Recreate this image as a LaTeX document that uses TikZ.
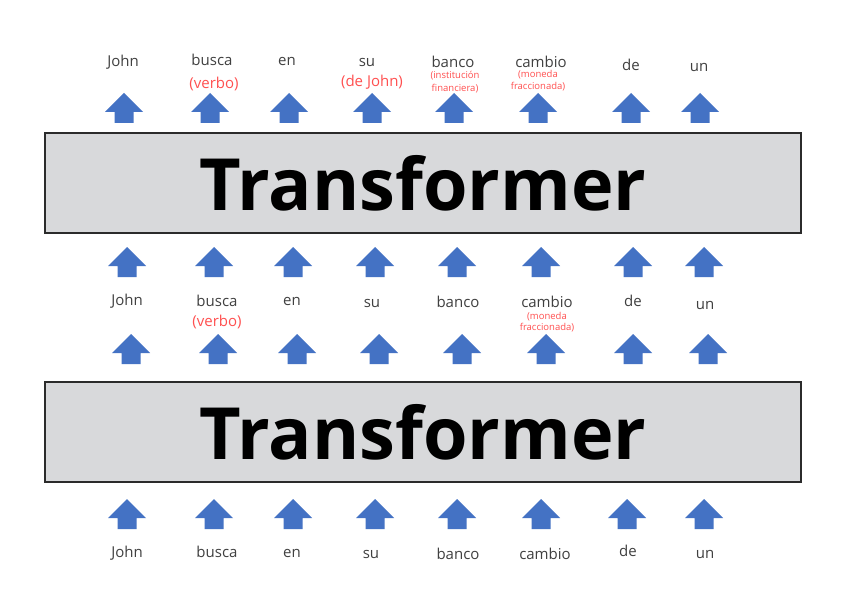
\documentclass[tikz,border=0pt]{standalone}
\usepackage{fontspec}
\setmainfont{Open Sans}
\definecolor{arrowblue}{HTML}{4472C4}
\definecolor{wordgray}{HTML}{404040}
\definecolor{notered}{HTML}{FF5050}
\definecolor{boxgray}{HTML}{D8D9DB}
\definecolor{boxline}{HTML}{2B2B2B}
\begin{document}
\begin{tikzpicture}[x=1pt,y=-1pt,
  word/.style={text=wordgray,font=\fontsize{15}{18}\selectfont,anchor=base,inner sep=0pt},
  note/.style={text=notered,font=\fontsize{15}{18}\selectfont,anchor=base,inner sep=0pt},
  tiny/.style={text=notered,font=\fontsize{9.5}{11}\selectfont,anchor=base,inner sep=0pt},
  tbox/.style={draw=boxline,fill=boxgray,line width=1.5pt,minimum width=756pt,minimum height=100pt,inner sep=0pt,font=\fontsize{72}{80}\selectfont\bfseries},
  upblock/.pic={\fill[arrowblue] (0,-15) -- (19,4) -- (9.5,4) -- (9.5,15) -- (-9.5,15) -- (-9.5,4) -- (-19,4) -- cycle;}
]
\fill[white] (0,0) rectangle (866,612);
\useasboundingbox (0,0) rectangle (866,612);

% Transformer boxes
\node[tbox] (tf2) at (423,183) {Transformer};
\node[tbox] (tf1) at (423,432) {Transformer};

% top output words
\node[word] (o1) at (123,67) {John};
\node[word] (o2) at (212,66) {busca};
\node[note] (o2n) at (214,89) {(verbo)};
\node[word] (o3) at (287,66) {en};
\node[word] (o4) at (367,67) {su};
\node[note] (o4n) at (372,87) {(de John)};
\node[word] (o5) at (453,68) {banco};
\node[tiny] (o5n) at (455,79) {(institución};
\node[tiny] (o5m) at (455,92) {financiera)};
\node[word] (o6) at (541,68) {cambio};
\node[tiny] (o6n) at (538,78) {(moneda};
\node[tiny] (o6m) at (538,90) {fraccionada)};
\node[word] (o7) at (631,71) {de};
\node[word] (o8) at (699,72) {un};

% top arrows
\foreach \x [count=\i] in {124,210,289,372,454,538,631,700}
  \pic (at\i) at (\x,108) {upblock};

% middle arrows (upper)
\foreach \x [count=\i] in {127,214,293,375,457,541,633,704}
  \pic (am\i) at (\x,262) {upblock};

% middle words
\node[word] (m1) at (127,305) {John};
\node[word] (m2) at (217,306) {busca};
\node[note] (m2n) at (217,326) {(verbo)};
\node[word] (m3) at (292,305) {en};
\node[word] (m4) at (372,307) {su};
\node[word] (m5) at (458,307) {banco};
\node[word] (m6) at (547,307) {cambio};
\node[tiny] (m6n) at (547,319) {(moneda};
\node[tiny] (m6m) at (547,330) {fraccionada)};
\node[word] (m7) at (633,306) {de};
\node[word] (m8) at (705,309) {un};

% middle arrows (lower)
\foreach \x [count=\i] in {131,218,297,379,462,546,633,708}
  \pic (an\i) at (\x,349) {upblock};

% bottom arrows
\foreach \x [count=\i] in {127,214,293,375,457,541,627,704}
  \pic (ab\i) at (\x,514) {upblock};

% bottom input words
\node[word] (b1) at (127,557) {John};
\node[word] (b2) at (217,557) {busca};
\node[word] (b3) at (292,557) {en};
\node[word] (b4) at (371,558) {su};
\node[word] (b5) at (458,559) {banco};
\node[word] (b6) at (545,559) {cambio};
\node[word] (b7) at (628,556) {de};
\node[word] (b8) at (705,558) {un};
\end{tikzpicture}
\end{document}
